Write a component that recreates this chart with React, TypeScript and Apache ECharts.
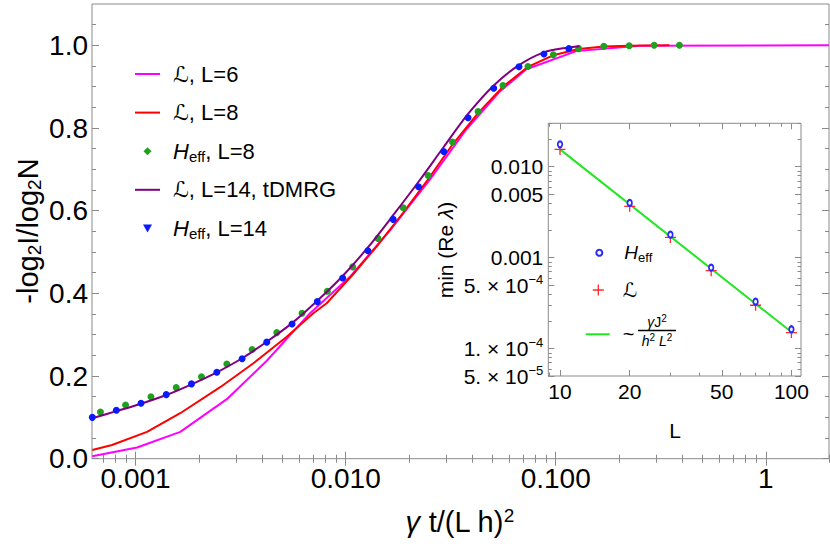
import React, { useEffect, useRef } from 'react';
import * as echarts from 'echarts';

// ---------- main panel data: gamma t/(L h)^2  vs  -log2 I / log2 N ----------
const L6_T = [6.22e-4, 1.016e-3, 1.631e-3, 2.719e-3, 4.212e-3, 6.767e-3, 0.01048, 0.01623, 0.02516, 0.03759, 0.05411, 0.07248, 0.1253, 0.2504, 2];
const L6_V = [0.006, 0.027, 0.065, 0.144, 0.237, 0.352, 0.440, 0.552, 0.675, 0.797, 0.888, 0.942, 0.986, 0.999, 1.0];

const L8_T = [6.22e-4, 7.72e-4, 1.133e-3, 1.631e-3, 2.527e-3, 3.638e-3, 5.243e-3, 7.015e-3, 8.122e-3, 0.0108, 0.01424, 0.01878, 0.02469, 0.03226, 0.04268, 0.0561, 0.07377, 0.09741, 0.1285, 0.1694, 0.2238, 0.3477];
const L8_V = [0.021, 0.033, 0.065, 0.110, 0.173, 0.231, 0.295, 0.352, 0.376, 0.445, 0.517, 0.595, 0.676, 0.760, 0.836, 0.900, 0.948, 0.976, 0.991, 0.997, 0.999, 1.0];

const HEFF8_T = [6.80e-4, 8.96e-4, 1.183e-3, 1.561e-3, 2.059e-3, 2.719e-3, 3.586e-3, 4.700e-3, 6.199e-3, 8.178e-3, 0.0108, 0.01424, 0.01878, 0.02469, 0.03226, 0.04268, 0.0561, 0.07377, 0.09741, 0.1285, 0.1694, 0.2238, 0.2942, 0.388];
const HEFF8_V = [0.113, 0.130, 0.150, 0.172, 0.198, 0.229, 0.264, 0.305, 0.352, 0.405, 0.464, 0.533, 0.607, 0.685, 0.766, 0.840, 0.903, 0.949, 0.977, 0.992, 0.998, 0.999, 1.0, 1.0];

const L14_T = [6.22e-4, 8.10e-4, 1.061e-3, 1.399e-3, 1.845e-3, 2.436e-3, 3.214e-3, 4.211e-3, 5.556e-3, 7.328e-3, 9.676e-3, 0.01276, 0.01683, 0.02223, 0.02929, 0.03825, 0.05069, 0.06685, 0.08789, 0.1155, 0.1299];
const L14_V = [0.098, 0.115, 0.133, 0.154, 0.180, 0.209, 0.243, 0.283, 0.328, 0.382, 0.442, 0.511, 0.589, 0.670, 0.754, 0.834, 0.903, 0.952, 0.983, 0.995, 0.998];

const HEFF14_T = [6.22e-4, 8.10e-4, 1.061e-3, 1.399e-3, 1.845e-3, 2.436e-3, 3.214e-3, 4.211e-3, 5.556e-3, 7.328e-3, 9.676e-3, 0.01276, 0.01683, 0.02223, 0.02929, 0.03825, 0.05069, 0.06685, 0.08789, 0.1155];
const HEFF14_V = [0.100, 0.117, 0.134, 0.155, 0.181, 0.209, 0.242, 0.282, 0.326, 0.380, 0.437, 0.503, 0.579, 0.658, 0.743, 0.825, 0.896, 0.948, 0.979, 0.992];

// ---------- inset data: L vs min(Re lambda) ----------
const INSET_L = [10, 20, 30, 45, 70, 100];
const INSET_HEFF = [0.0176, 0.0040, 0.00179, 0.000778, 0.000328, 0.000163];
const INSET_LIOU = [0.0155, 0.00367, 0.00167, 0.000719, 0.000300, 0.000150];
const FIT_L = [10, 100];
const FIT_V = [0.0155, 0.000152];

// ---------- ticks ----------
const MAIN_X_MAJOR = [0.001, 0.01, 0.1, 1];
const MAIN_X_LABELS = ['0.001', '0.010', '0.100', '1'];
const MAIN_X_MINOR = [0.0007, 0.0008, 0.0009, 0.002, 0.003, 0.004, 0.005, 0.006, 0.007, 0.008, 0.009, 0.02, 0.03, 0.04, 0.05, 0.06, 0.07, 0.08, 0.09, 0.2, 0.3, 0.4, 0.5, 0.6, 0.7, 0.8, 0.9, 2];
const MAIN_Y_MAJOR = [0, 0.2, 0.4, 0.6, 0.8, 1.0];
const MAIN_Y_LABELS = ['0.0', '0.2', '0.4', '0.6', '0.8', '1.0'];
const MAIN_Y_MINOR = [0.05, 0.1, 0.15, 0.25, 0.3, 0.35, 0.45, 0.5, 0.55, 0.65, 0.7, 0.75, 0.85, 0.9, 0.95, 1.05];
const INSET_X_MAJOR = [10, 20, 50, 100];
const INSET_X_LABELS = ['10', '20', '50', '100'];
const INSET_X_MINOR = [9, 30, 40, 60, 70, 80, 90];
const INSET_Y_MAJOR = [0.01, 0.005, 0.001, 0.0005, 0.0001, 0.00005];
const INSET_Y_LABELS = ['0.010', '0.005', '0.001', '{m|5. × 10}{e|−4}', '{m|1. × 10}{e|−4}', '{m|5. × 10}{e|−5}'];
const INSET_Y_MINOR = [0.02, 0.03, 0.002, 0.003, 0.004, 0.006, 0.007, 0.008, 0.009, 0.0002, 0.0003, 0.0004, 0.0006, 0.0007, 0.0008, 0.0009, 0.00006, 0.00007, 0.00008, 0.00009];

const F = 'Liberation Sans, Arial, Helvetica, sans-serif';
const SCRIPT = 'DejaVu Serif, DejaVu Sans, serif';
const FRAME = '#8a8a8a';
const LINE_ICON = 'path://M0,0H25V2H0Z';

const zip = (xs: number[], ys: number[]) => xs.map((x, i) => [x, ys[i]]);

const lookup = (vals: number[], labels: string[], log: boolean) => (v: number) => {
  const i = vals.findIndex((u) => (log ? Math.abs(Math.log10(u) - Math.log10(v)) < 1e-6 : Math.abs(u - v) < 1e-9));
  return i >= 0 ? labels[i] : '';
};

function axis(type: string, grid: number, position: string, min: number, max: number, ticks: number[], len: number, label?: any) {
  const a: any = {
    type, gridIndex: grid, position, min, max,
    axisLine: { show: false },
    splitLine: { show: false },
    minorTick: { show: false },
    axisTick: { show: true, inside: true, length: len, customValues: ticks, lineStyle: { color: FRAME, width: 1 } },
    axisLabel: { show: false },
  };
  if (type === 'log') a.logBase = 10;
  if (label) {
    a.axisLabel = {
      show: true, customValues: ticks, formatter: label.formatter, margin: label.margin,
      fontSize: label.fontSize, fontFamily: F, color: '#000', rich: label.rich || {},
    };
  }
  return a;
}

export default function App() {
  const ref = useRef<HTMLDivElement>(null);
  useEffect(() => {
    if (!ref.current) return;
    const chart = echarts.init(ref.current, undefined, { renderer: 'svg' });

    const mainXFmt = lookup(MAIN_X_MAJOR, MAIN_X_LABELS, true);
    const mainYFmt = lookup(MAIN_Y_MAJOR, MAIN_Y_LABELS, false);
    const insXFmt = lookup(INSET_X_MAJOR, INSET_X_LABELS, true);
    const insYFmt = lookup(INSET_Y_MAJOR, INSET_Y_LABELS, true);

    const legendNames: Record<string, string> = {
      L6: '{s|ℒ}{t|, L=6}',
      L8: '{s|ℒ}{t|, L=8}',
      Heff8: '{h|H}{sub|eff}{t|, L=8}',
      L14: '{s|ℒ}{t|, L=14, tDMRG}',
      Heff14: '{h|H}{sub|eff}{t|, L=14}',
    };

    const option: any = {
      animation: false,
      backgroundColor: '#fff',
      grid: [
        { left: 92, top: 4, width: 737, height: 454.7, show: true, borderColor: FRAME, borderWidth: 1, backgroundColor: 'transparent', containLabel: false },
        { left: 548.3, top: 123.3, width: 252.7, height: 252.7, show: true, borderColor: FRAME, borderWidth: 1, backgroundColor: '#fff', containLabel: false },
      ],
      xAxis: [
        axis('log', 0, 'bottom', 0.00062, 2, MAIN_X_MAJOR, 7, { formatter: mainXFmt, margin: 6, fontSize: 28 }),
        axis('log', 0, 'bottom', 0.00062, 2, MAIN_X_MINOR, 4),
        axis('log', 0, 'top', 0.00062, 2, MAIN_X_MAJOR, 7),
        axis('log', 0, 'top', 0.00062, 2, MAIN_X_MINOR, 4),
        axis('log', 1, 'bottom', 8.9, 110, INSET_X_MAJOR, 6, { formatter: insXFmt, margin: 5, fontSize: 21 }),
        axis('log', 1, 'bottom', 8.9, 110, INSET_X_MINOR, 3.5),
        axis('log', 1, 'top', 8.9, 110, INSET_X_MAJOR, 6),
        axis('log', 1, 'top', 8.9, 110, INSET_X_MINOR, 3.5),
      ],
      yAxis: [
        axis('value', 0, 'left', 0, 1.1, MAIN_Y_MAJOR, 7, { formatter: mainYFmt, margin: 4, fontSize: 28 }),
        axis('value', 0, 'left', 0, 1.1, MAIN_Y_MINOR, 4),
        axis('value', 0, 'right', 0, 1.1, MAIN_Y_MAJOR, 7),
        axis('value', 0, 'right', 0, 1.1, MAIN_Y_MINOR, 4),
        axis('log', 1, 'left', 0.00005, 0.03, INSET_Y_MAJOR, 6, {
          formatter: insYFmt, margin: 5, fontSize: 21,
          rich: { m: { fontSize: 21, fontFamily: F, color: '#000' }, e: { fontSize: 13, fontFamily: F, color: '#000', padding: [0, 0, 12, 0] } },
        }),
        axis('log', 1, 'left', 0.00005, 0.03, INSET_Y_MINOR, 3.5),
        axis('log', 1, 'right', 0.00005, 0.03, INSET_Y_MAJOR, 6),
        axis('log', 1, 'right', 0.00005, 0.03, INSET_Y_MINOR, 3.5),
      ],
      legend: [
        {
          data: [
            { name: 'L6', icon: LINE_ICON },
            { name: 'L8', icon: LINE_ICON },
            { name: 'Heff8', icon: 'path://M5,0L10,5L5,10L0,5Z' },
            { name: 'L14', icon: LINE_ICON },
            { name: 'Heff14', icon: 'path://M0,0L9,0L4.5,8Z' },
          ],
          left: 135, top: 59, orient: 'vertical', itemGap: 8.6, itemWidth: 25, itemHeight: 8, padding: 0,
          selectedMode: false, symbolKeepAspect: true,
          formatter: (n: string) => legendNames[n] || n,
          textStyle: {
            fontSize: 22, fontFamily: F, color: '#000', lineHeight: 30,
            rich: {
              s: { fontSize: 22, fontFamily: SCRIPT, fontStyle: 'italic', color: '#000', padding: [0, 0, 0, 8] },
              h: { fontSize: 22, fontFamily: F, fontStyle: 'italic', color: '#000', padding: [0, 0, 0, 8] },
              sub: { fontSize: 15, fontFamily: F, color: '#000', padding: [10, 0, 0, 0] },
              t: { fontSize: 22, fontFamily: F, color: '#000' },
            },
          },
        },
        {
          data: [{ name: 'inHeff' }], left: 595.3, top: 239.7, orient: 'vertical', itemWidth: 6, itemHeight: 8, padding: 0,
          selectedMode: false, symbolKeepAspect: false,
          formatter: () => '{h|H}{sub|eff}',
          textStyle: {
            fontSize: 18, fontFamily: F, color: '#000', lineHeight: 26,
            rich: {
              h: { fontSize: 19, fontFamily: F, fontStyle: 'italic', color: '#000', padding: [0, 0, 0, 17] },
              sub: { fontSize: 13, fontFamily: F, color: '#000', padding: [9, 0, 0, 0] },
            },
          },
        },
        {
          data: [{ name: 'inL' }], left: 592.8, top: 277, orient: 'vertical', itemWidth: 11, itemHeight: 11, padding: 0,
          selectedMode: false,
          formatter: () => '{s|ℒ}',
          textStyle: {
            fontSize: 19, fontFamily: F, color: '#000', lineHeight: 26,
            rich: { s: { fontSize: 20, fontFamily: SCRIPT, fontStyle: 'italic', color: '#000', padding: [0, 0, 0, 14] } },
          },
        },
        {
          data: [{ name: 'inFit', icon: 'path://M0,0H24V2H0Z' }], left: 585.7, top: 321.3, orient: 'vertical', itemWidth: 24, itemHeight: 8, padding: 0,
          selectedMode: false, symbolKeepAspect: true,
          formatter: () => '{t|~}',
          textStyle: {
            fontSize: 19, fontFamily: F, color: '#000', lineHeight: 26,
            rich: { t: { fontSize: 20, fontFamily: F, color: '#000', padding: [0, 0, 0, 8] } },
          },
        },
      ],
      series: [
        { name: 'L6', type: 'line', xAxisIndex: 0, yAxisIndex: 0, data: zip(L6_T, L6_V), symbol: 'none', lineStyle: { color: '#ff00ff', width: 2 }, itemStyle: { color: '#ff00ff' }, z: 2 },
        { name: 'L8', type: 'line', xAxisIndex: 0, yAxisIndex: 0, data: zip(L8_T, L8_V), symbol: 'none', lineStyle: { color: '#ff0000', width: 2 }, itemStyle: { color: '#ff0000' }, z: 3 },
        { name: 'Heff8', type: 'scatter', xAxisIndex: 0, yAxisIndex: 0, data: zip(HEFF8_T, HEFF8_V), symbol: 'circle', symbolSize: 7, itemStyle: { color: '#1fa01f', opacity: 1 }, z: 4 },
        { name: 'L14', type: 'line', xAxisIndex: 0, yAxisIndex: 0, data: zip(L14_T, L14_V), symbol: 'none', smooth: 0.3, lineStyle: { color: '#800080', width: 2 }, itemStyle: { color: '#800080' }, z: 5 },
        { name: 'Heff14', type: 'scatter', xAxisIndex: 0, yAxisIndex: 0, data: zip(HEFF14_T, HEFF14_V), symbol: 'circle', symbolSize: 7, itemStyle: { color: '#0a1aff', opacity: 1 }, z: 6 },
        { name: 'inFit', type: 'line', xAxisIndex: 4, yAxisIndex: 4, data: zip(FIT_L, FIT_V), symbol: 'none', lineStyle: { color: '#22e622', width: 2 }, itemStyle: { color: '#22e622' }, z: 7 },
        { name: 'inL', type: 'scatter', xAxisIndex: 4, yAxisIndex: 4, data: zip(INSET_L, INSET_LIOU), symbol: 'path://M4.4,0H5.6V4.4H10V5.6H5.6V10H4.4V5.6H0V4.4H4.4Z', symbolSize: 11, itemStyle: { color: '#ff2a2a', opacity: 1 }, z: 8 },
        { name: 'inHeff', type: 'scatter', xAxisIndex: 4, yAxisIndex: 4, data: zip(INSET_L, INSET_HEFF), symbol: 'emptyCircle', symbolSize: [4.5, 6], itemStyle: { color: '#2a2aff', borderWidth: 1, opacity: 1 }, z: 9 },
      ],
      graphic: [
        {
          type: 'text', x: 28, y: 231, rotation: Math.PI / 2, z: 10,
          style: {
            text: '{t|-log}{s|2}{t|I/log}{s|2}{t|N}', align: 'center', verticalAlign: 'middle',
            rich: {
              t: { fontSize: 29, fontFamily: F, fill: '#000' },
              s: { fontSize: 19, fontFamily: F, fill: '#000', padding: [12, 0, 0, 0] },
            },
          },
        },
        {
          type: 'text', x: 460, y: 522, z: 10,
          style: {
            text: '{g|γ}{t| t/(L h)}{p|2}', align: 'center', verticalAlign: 'middle',
            rich: {
              g: { fontSize: 29, fontFamily: F, fontStyle: 'italic', fill: '#000' },
              t: { fontSize: 29, fontFamily: F, fill: '#000' },
              p: { fontSize: 19, fontFamily: F, fill: '#000', padding: [0, 0, 14, 0] },
            },
          },
        },
        {
          type: 'text', x: 445, y: 250, rotation: Math.PI / 2, z: 10,
          style: {
            text: '{t|min (Re }{l|λ}{t|)}', align: 'center', verticalAlign: 'middle',
            rich: {
              t: { fontSize: 21, fontFamily: F, fill: '#000' },
              l: { fontSize: 21, fontFamily: F, fontStyle: 'italic', fill: '#000' },
            },
          },
        },
        {
          type: 'text', x: 675, y: 430, z: 10,
          style: { text: 'L', fontSize: 21, fontFamily: F, fill: '#000', align: 'center', verticalAlign: 'middle' },
        },
        {
          type: 'text', x: 657, y: 330, z: 10,
          style: {
            text: '{g|γ}{t|J}{p|2}', align: 'center', verticalAlign: 'bottom',
            rich: {
              g: { fontSize: 14, fontFamily: F, fontStyle: 'italic', fill: '#000' },
              t: { fontSize: 14, fontFamily: F, fill: '#000' },
              p: { fontSize: 10, fontFamily: F, fill: '#000', padding: [0, 0, 7, 0] },
            },
          },
        },
        {
          type: 'line', z: 10,
          shape: { x1: 638, y1: 330.5, x2: 676, y2: 330.5 },
          style: { stroke: '#000', lineWidth: 1.3 },
        },
        {
          type: 'text', x: 657, y: 332, z: 10,
          style: {
            text: '{i|h}{p|2}{t| }{i|L}{p|2}', align: 'center', verticalAlign: 'top',
            rich: {
              i: { fontSize: 14, fontFamily: F, fontStyle: 'italic', fill: '#000' },
              t: { fontSize: 14, fontFamily: F, fill: '#000' },
              p: { fontSize: 10, fontFamily: F, fill: '#000', padding: [0, 0, 7, 0] },
            },
          },
        },
      ],
    };
    chart.setOption(option);
    return () => chart.dispose();
  }, []);
  return <div ref={ref} style={{ position: 'absolute', left: 0, top: 0, width: 830, height: 549 }} />;
}
